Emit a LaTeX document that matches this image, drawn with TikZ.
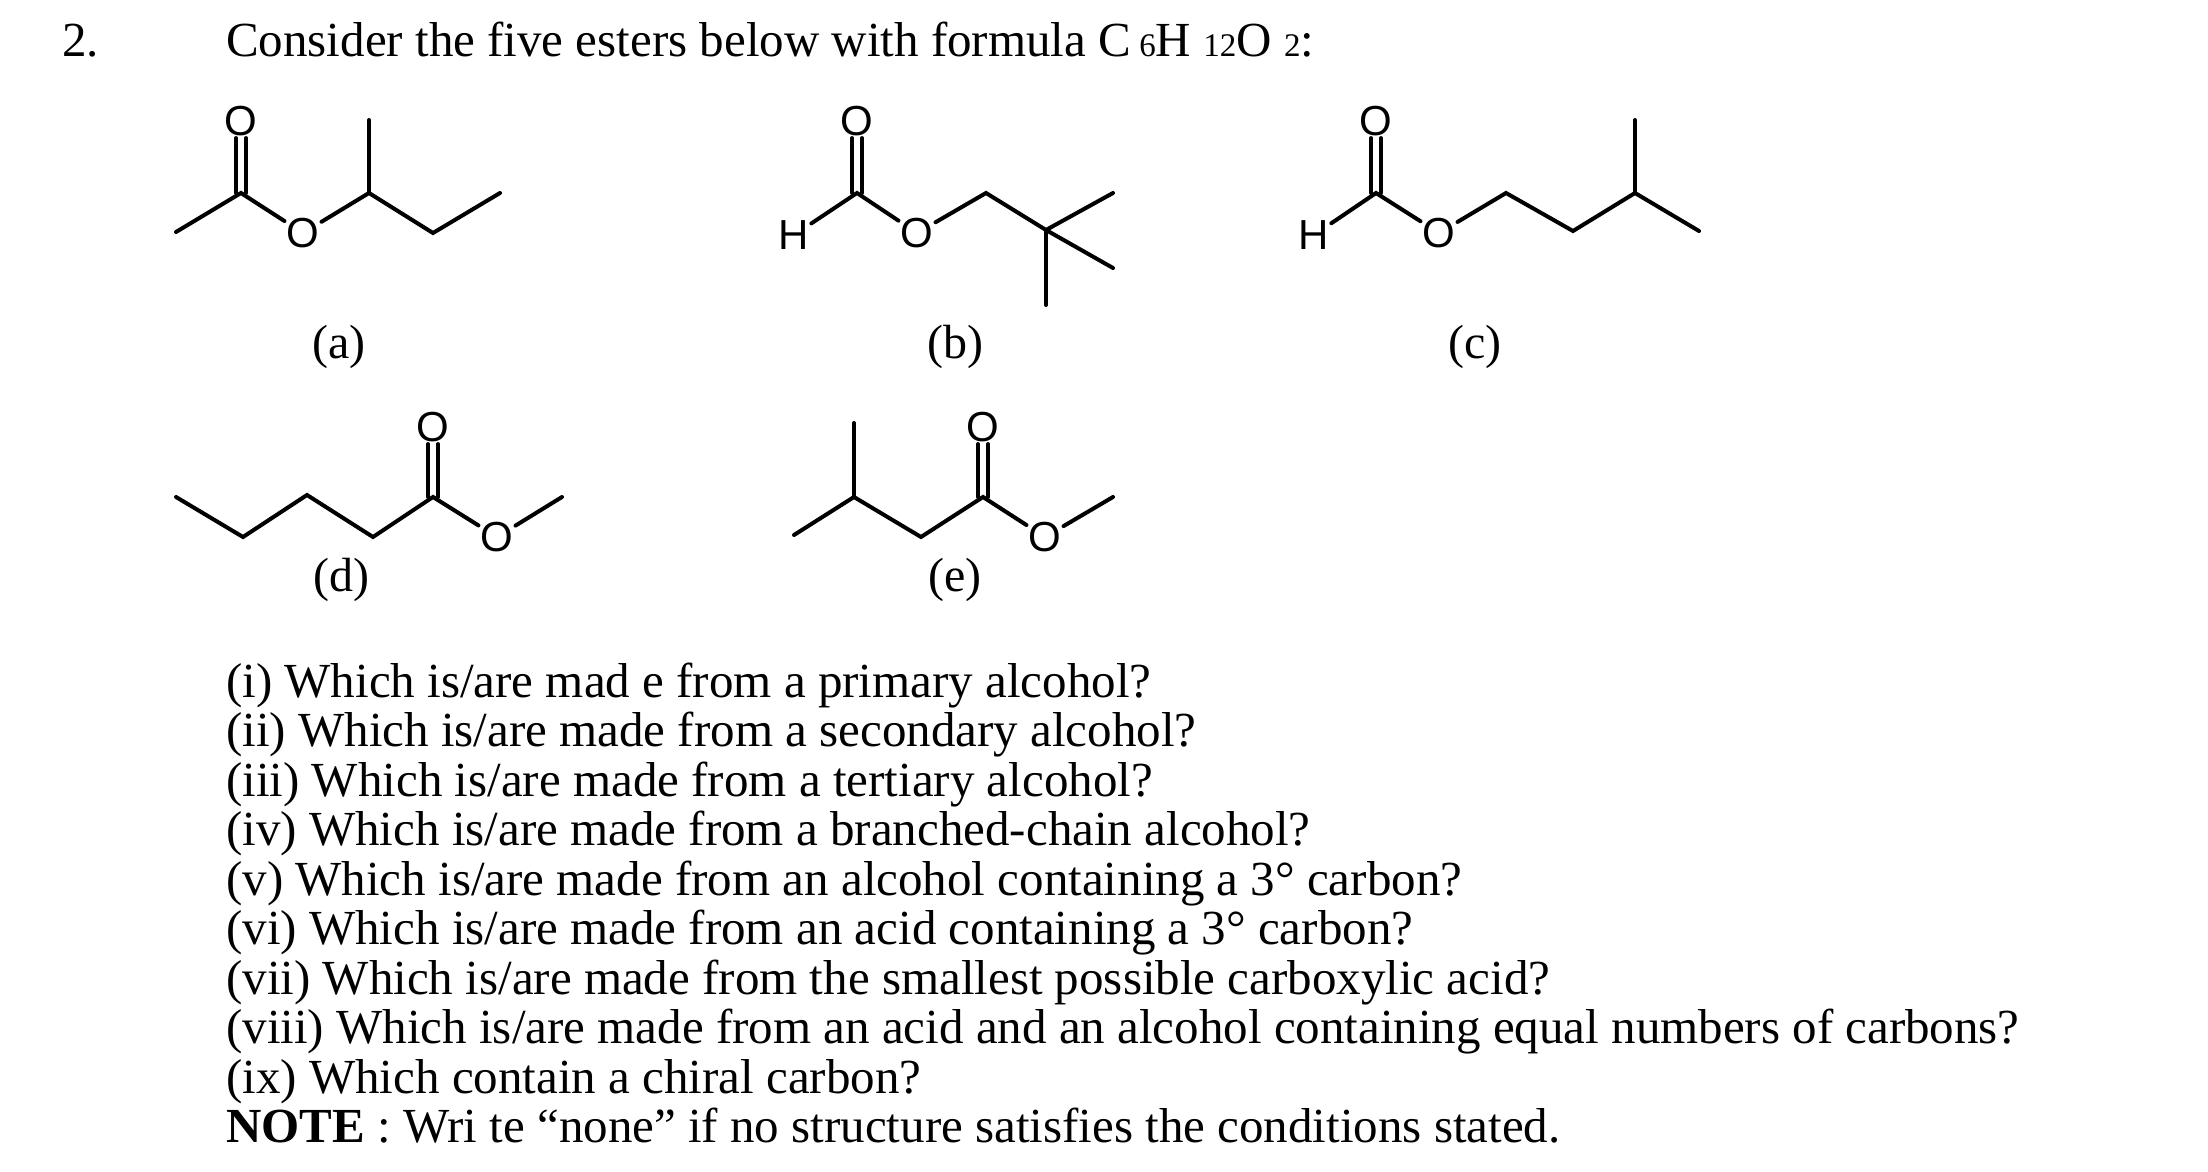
\documentclass[tikz,border=0pt]{standalone}
\usepackage{fontspec}
\setmainfont{Liberation Serif}
\newfontfamily\atomfont{Liberation Sans}
\begin{document}
\begin{tikzpicture}[x=1pt,y=-1pt,
  bond/.style={line width=4pt,line cap=round},
  atom/.style={font=\atomfont\fontsize{42}{42}\selectfont,inner sep=2pt},
  lbl/.style={font=\fontsize{48}{48}\selectfont},
  txt/.style={font=\fontsize{49}{49}\selectfont,anchor=base west,inner sep=0pt}]
\useasboundingbox (0,0) rectangle (2208,1172);
\node[txt] (num) at (62,57) {2.};
\node[txt] (title) at (226,57) {Consider the five esters below with formula C\,{\fontsize{33}{33}\selectfont 6}H {\fontsize{33}{33}\selectfont 12}O {\fontsize{33}{33}\selectfont 2}:};
% (a)
\coordinate (a1) at (176,232); \coordinate (a2) at (241,193);
\node[atom] (aO1) at (241,121) {O}; \node[atom] (aO2) at (303,233) {O};
\coordinate (a3) at (369,193); \coordinate (a4) at (369,120);
\coordinate (a5) at (433,233); \coordinate (a6) at (500,193);
\draw[bond] (a1) -- (a2) -- (aO2) -- (a3) -- (a5) -- (a6);
\draw[bond] (a3) -- (a4);
\draw[bond] ([xshift=-5pt]a2) -- ([xshift=-5pt]aO1.south);
\draw[bond] ([xshift=5pt]a2) -- ([xshift=5pt]aO1.south);
\node[lbl] (la) at (339,347) {(a)};
% (b)
\node[atom] (bH) at (794,235) {H}; \coordinate (b1) at (857,193);
\node[atom] (bO1) at (857,121) {O}; \node[atom] (bO2) at (917,233) {O};
\coordinate (b2) at (986,193); \coordinate (b3) at (1046,230);
\coordinate (b4) at (1113,193); \coordinate (b5) at (1113,268); \coordinate (b6) at (1046,305);
\draw[bond] (bH) -- (b1) -- (bO2) -- (b2) -- (b3) -- (b4);
\draw[bond] (b3) -- (b5); \draw[bond] (b3) -- (b6);
\draw[bond] ([xshift=-5pt]b1) -- ([xshift=-5pt]bO1.south);
\draw[bond] ([xshift=5pt]b1) -- ([xshift=5pt]bO1.south);
\node[lbl] (lb) at (955,347) {(b)};
% (c)
\node[atom] (cH) at (1314,235) {H}; \coordinate (c1) at (1376,193);
\node[atom] (cO1) at (1376,121) {O}; \node[atom] (cO2) at (1439,233) {O};
\coordinate (c2) at (1506,193); \coordinate (c3) at (1573,231);
\coordinate (c4) at (1635,193); \coordinate (c5) at (1635,120); \coordinate (c6) at (1699,231);
\draw[bond] (cH) -- (c1) -- (cO2) -- (c2) -- (c3) -- (c4) -- (c6);
\draw[bond] (c4) -- (c5);
\draw[bond] ([xshift=-5pt]c1) -- ([xshift=-5pt]cO1.south);
\draw[bond] ([xshift=5pt]c1) -- ([xshift=5pt]cO1.south);
\node[lbl] (lc) at (1475,347) {(c)};
% (d)
\coordinate (d1) at (176,497); \coordinate (d2) at (243,537); \coordinate (d3) at (307,495);
\coordinate (d4) at (373,537); \coordinate (d5) at (433,497);
\node[atom] (dO1) at (433,427) {O}; \node[atom] (dO2) at (497,537) {O};
\coordinate (d6) at (562,497);
\draw[bond] (d1) -- (d2) -- (d3) -- (d4) -- (d5) -- (dO2) -- (d6);
\draw[bond] ([xshift=-5pt]d5) -- ([xshift=-5pt]dO1.south);
\draw[bond] ([xshift=5pt]d5) -- ([xshift=5pt]dO1.south);
\node[lbl] (ld) at (341,580) {(d)};
% (e)
\coordinate (e1) at (794,535); \coordinate (e2) at (854,497); \coordinate (e3) at (854,423);
\coordinate (e4) at (921,537); \coordinate (e5) at (983,497);
\node[atom] (eO1) at (983,427) {O}; \node[atom] (eO2) at (1045,537) {O};
\coordinate (e6) at (1113,497);
\draw[bond] (e1) -- (e2) -- (e4) -- (e5) -- (eO2) -- (e6);
\draw[bond] (e2) -- (e3);
\draw[bond] ([xshift=-5pt]e5) -- ([xshift=-5pt]eO1.south);
\draw[bond] ([xshift=5pt]e5) -- ([xshift=5pt]eO1.south);
\node[lbl] (le) at (955,580) {(e)};
% questions
\node[txt] (q1) at (226,697) {(i) Which is/are mad e from a primary alcohol?};
\node[txt] (q2) at (226,746) {(ii) Which is/are made from a secondary alcohol?};
\node[txt] (q3) at (226,796) {(iii) Which is/are made from a tertiary alcohol?};
\node[txt] (q4) at (226,845) {(iv) Which is/are made from a branched-chain alcohol?};
\node[txt] (q5) at (226,895) {(v) Which is/are made from an alcohol containing a 3° carbon?};
\node[txt] (q6) at (226,944) {(vi) Which is/are made from an acid containing a 3° carbon?};
\node[txt] (q7) at (226,994) {(vii) Which is/are made from the smallest possible carboxylic acid?};
\node[txt] (q8) at (226,1043) {(viii) Which is/are made from an acid and an alcohol containing equal numbers of carbons?};
\node[txt] (q9) at (226,1093) {(ix) Which contain a chiral carbon?};
\node[txt] (q10) at (226,1142) {\textbf{NOTE} : Wri te “none” if no structure satisfies the conditions stated.};
\end{tikzpicture}
\end{document}
